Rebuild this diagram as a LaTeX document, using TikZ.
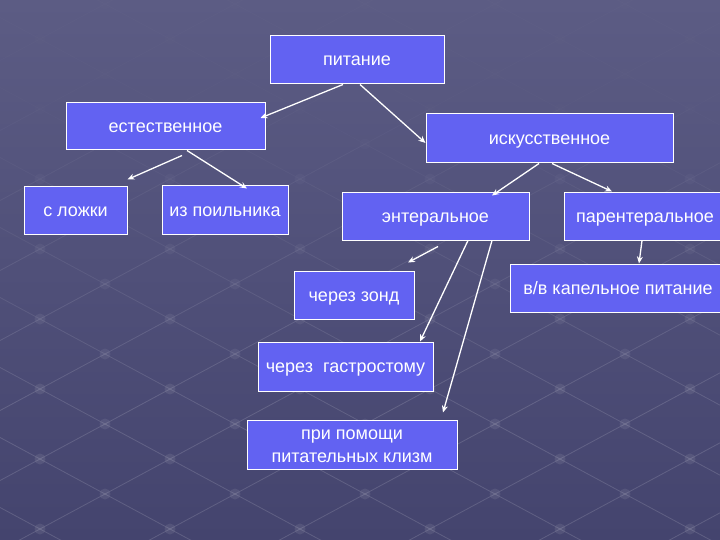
\documentclass[tikz,border=0pt]{standalone}
\usepackage{fontspec}
\setmainfont{Liberation Sans}
\usepackage{xcolor}
\usetikzlibrary{arrows.meta}
\definecolor{slidetop}{RGB}{92,92,132}
\definecolor{slidebot}{RGB}{68,68,110}
\definecolor{boxblue}{RGB}{98,98,242}

\begin{document}
\begin{tikzpicture}[x=1pt, y=-1pt,
	box/.style={draw=white, line width=1pt, fill=boxblue, text=white, inner sep=0pt,
		text height=14pt, text depth=2pt, align=center, font=\fontsize{18}{23}\selectfont},
	arr/.style={white, line width=1.3pt, -{Stealth[length=7pt, width=6pt]}}]
	\useasboundingbox (0,0) rectangle (720,540);
	\shade[top color=slidetop, bottom color=slidebot] (0,0) rectangle (720,540);
	\begin{scope}
	\clip (0,0) rectangle (720,540);
	\foreach \i in {-9,...,11} \foreach \j in {-9,...,11} {
		\pgfmathsetmacro\px{40+65*\i+65*\j}
		\pgfmathsetmacro\py{389+35*\i-35*\j}
		\pgfmathsetmacro\op{0.14*max(0.1,min(1,(\py-80)/330))}
		\pgfmathsetmacro\opd{0.6*\op}
		\draw[white, line width=0.8pt, opacity=\op] (\px,\py) -- ++(65,35);
		\draw[white, line width=0.8pt, opacity=\op] (\px,\py) -- ++(65,-35);
		\fill[white, opacity=\opd] (\px,\py) circle (5.5);
	}
	\end{scope}

	\node[box, minimum width=174, minimum height=48] (pit) at (357,60) {питание};
	\node[box, minimum width=199, minimum height=47] (est) at (165.5,126.5) {естественное};
	\node[box, minimum width=247, minimum height=49] (isk) at (549.5,138.5) {искусственное};
	\node[box, minimum width=103, minimum height=47] (slo) at (75.5,210.5) {с ложки};
	\node[box, minimum width=126, minimum height=48] (poi) at (225,210) {из поильника};
	\node[box, minimum width=187, minimum height=47] (ent) at (435.5,216.5) {энтеральное};
	\node[box, minimum width=162, minimum height=47] (par) at (645,216.5) {парентеральное};
	\node[box, minimum width=216, minimum height=48] (vv) at (618,288) {в/в капельное питание};
	\node[box, minimum width=120, minimum height=48] (zon) at (354,295) {через зонд};
	\node[box, minimum width=175, minimum height=49] (gas) at (345.5,366.5) {через\ \ гастростому};
	\node[box, minimum width=210, minimum height=49, text height=37pt] (pri) at (352,444.5) {при помощи\\питательных клизм};

	\draw[arr] ([shift={(-14,0)}]pit.south) -- ([shift={(-5,-8.5)}]est.east);
	\draw[arr] ([shift={(3,0)}]pit.south) -- ([shift={(0,4.5)}]isk.west);
	\draw[arr] ([shift={(16.5,5)}]est.south) -- ([shift={(0,-7)}]slo.north east);
	\draw[arr] ([shift={(21.5,0)}]est.south) -- ([shift={(22,3)}]poi.north);
	\draw[arr] ([shift={(-10.5,0)}]isk.south) -- ([shift={(56.5,3)}]ent.north);
	\draw[arr] ([shift={(2.5,0)}]isk.south) -- ([shift={(-33,-1)}]par.north);
	\draw[arr] ([shift={(-3,0)}]par.south) -- ([shift={(21,0)}]vv.north);
	\draw[arr] ([shift={(2.5,6)}]ent.south) -- ([shift={(54,-8)}]zon.north);
	\draw[arr] ([shift={(32.5,0)}]ent.south) -- ([shift={(74.5,0)}]gas.north);
	\draw[arr] ([shift={(56.5,0)}]ent.south) -- ([shift={(91,-7)}]pri.north);
\end{tikzpicture}
\end{document}
